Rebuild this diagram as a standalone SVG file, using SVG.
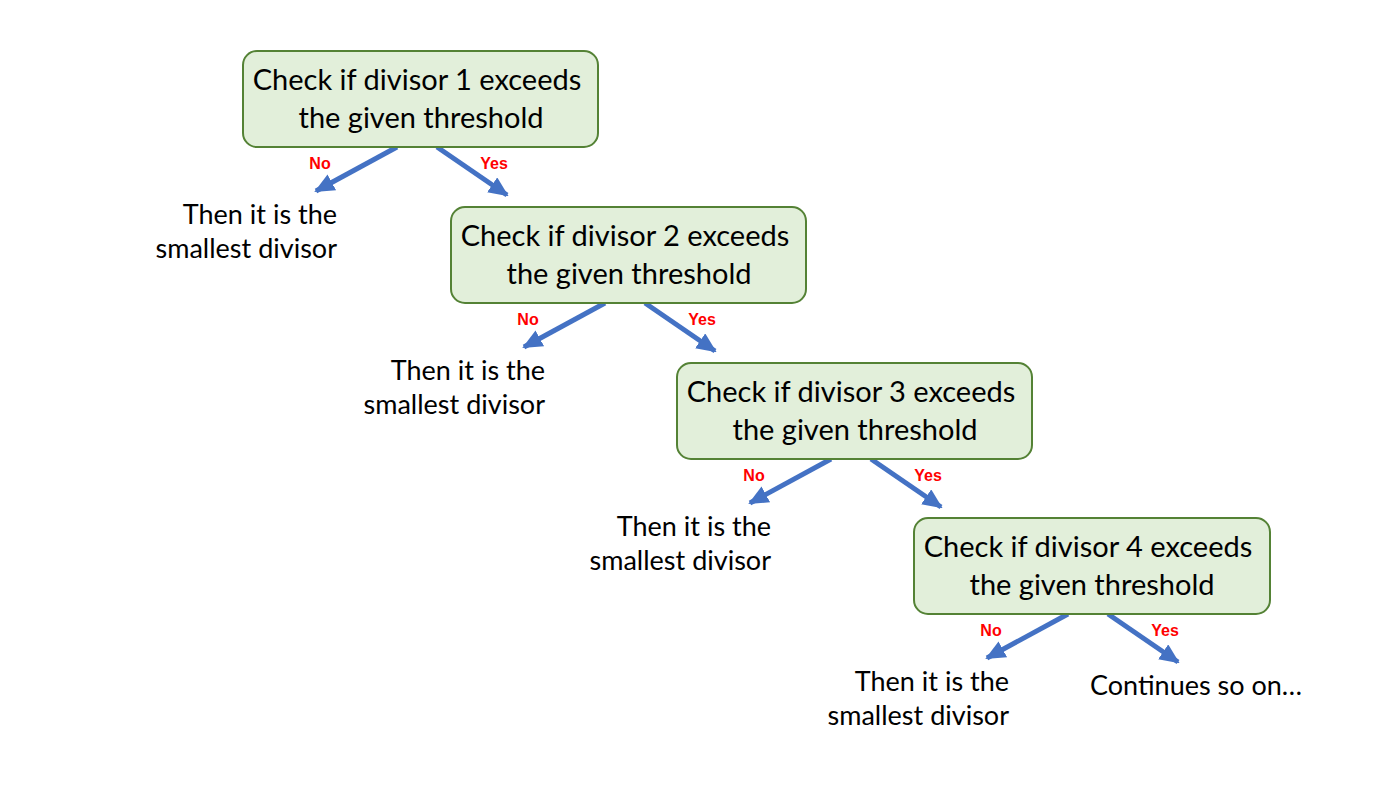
<svg xmlns="http://www.w3.org/2000/svg" width="1400" height="788" viewBox="0 0 1400 788">
<defs>
<style>
.box{fill:#E2EFDA;stroke:#548235;stroke-width:2}
.t{font-family:Lato,"Open Sans","Liberation Sans",sans-serif;font-size:29px;fill:#000}
.l{font-family:Lato,"Open Sans","Liberation Sans",sans-serif;font-size:27px;fill:#000}
.c{text-anchor:middle}
.r{text-anchor:end}
.lab{font-family:"Liberation Sans",Arial,sans-serif;font-size:16px;font-weight:bold;fill:#FF0000;text-anchor:middle}
.arr{stroke:#4472C4;stroke-width:5;fill:none;marker-end:url(#ah)}
</style>
<marker id="ah" viewBox="0 0 10 9" refX="9" refY="4.5" markerWidth="4" markerHeight="3.6" orient="auto" markerUnits="strokeWidth">
<path d="M0,0 L10,4.5 L0,9 z" fill="#4472C4"/>
</marker>
</defs>
<rect width="1400" height="788" fill="#fff"/>
<g id="connectors">
<line class="arr" x1="397" y1="147" x2="316" y2="191"/>
<line class="arr" x1="437" y1="147" x2="507" y2="195"/>
<line class="arr" x1="605" y1="303" x2="524" y2="347"/>
<line class="arr" x1="645" y1="303" x2="715" y2="351"/>
<line class="arr" x1="831" y1="459" x2="750" y2="503"/>
<line class="arr" x1="871" y1="459" x2="941" y2="507"/>
<line class="arr" x1="1068" y1="614" x2="987" y2="658"/>
<line class="arr" x1="1108" y1="614" x2="1178" y2="662"/>
<text class="lab" x="320" y="169">No</text>
<text class="lab" x="494" y="169">Yes</text>
<text class="lab" x="528" y="325">No</text>
<text class="lab" x="702" y="325">Yes</text>
<text class="lab" x="754" y="481">No</text>
<text class="lab" x="928" y="481">Yes</text>
<text class="lab" x="991" y="636">No</text>
<text class="lab" x="1165" y="636">Yes</text>
</g>
<g id="node1">
<rect class="box" x="243" y="51" width="355" height="96" rx="14"/>
<text class="t c" x="417" y="90">Check if divisor 1 exceeds</text>
<text class="t c" x="421" y="128">the given threshold</text>
</g>
<g id="leaf1">
<text class="l r" x="337" y="224">Then it is the</text>
<text class="l r" x="337" y="258">smallest divisor</text>
</g>
<g id="node2">
<rect class="box" x="451" y="207" width="355" height="96" rx="14"/>
<text class="t c" x="625" y="246">Check if divisor 2 exceeds</text>
<text class="t c" x="629" y="284">the given threshold</text>
</g>
<g id="leaf2">
<text class="l r" x="545" y="380">Then it is the</text>
<text class="l r" x="545" y="414">smallest divisor</text>
</g>
<g id="node3">
<rect class="box" x="677" y="363" width="355" height="96" rx="14"/>
<text class="t c" x="851" y="402">Check if divisor 3 exceeds</text>
<text class="t c" x="855" y="440">the given threshold</text>
</g>
<g id="leaf3">
<text class="l r" x="771" y="536">Then it is the</text>
<text class="l r" x="771" y="570">smallest divisor</text>
</g>
<g id="node4">
<rect class="box" x="914" y="518" width="356" height="96" rx="14"/>
<text class="t c" x="1088" y="557">Check if divisor 4 exceeds</text>
<text class="t c" x="1092" y="595">the given threshold</text>
</g>
<g id="leaf4">
<text class="l r" x="1009" y="691">Then it is the</text>
<text class="l r" x="1009" y="725">smallest divisor</text>
</g>
<g id="leaf5">
<text class="l" x="1090" y="695">Continues so on…</text>
</g>
</svg>
